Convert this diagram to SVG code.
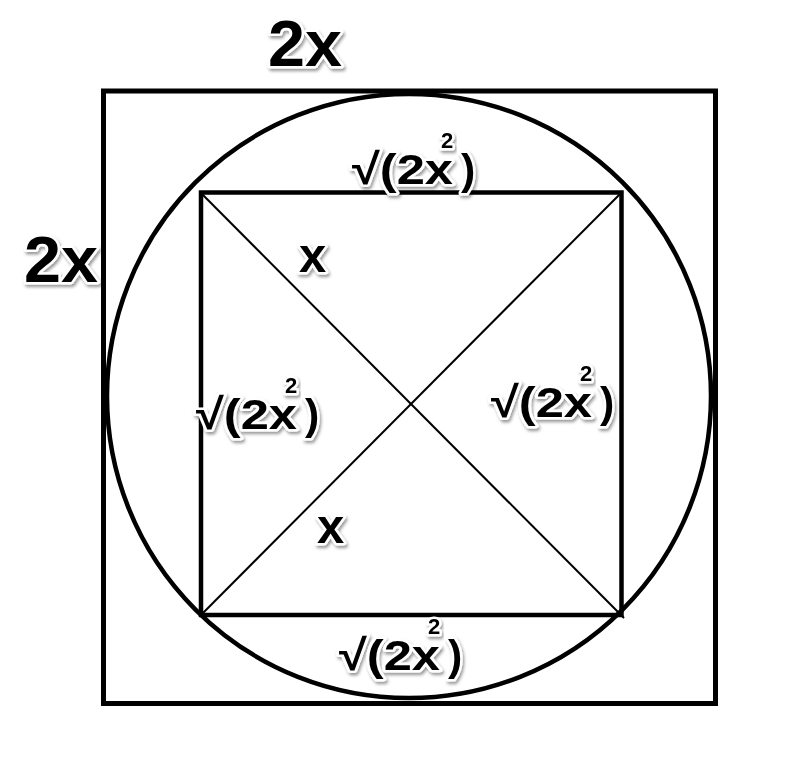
<svg xmlns="http://www.w3.org/2000/svg" width="792" height="760" viewBox="0 0 792 760">
<defs>
<filter id="sh" x="-20%" y="-30%" width="150%" height="170%">
<feDropShadow dx="1.5" dy="2.5" stdDeviation="1.6" flood-color="#000" flood-opacity="0.4"/>
</filter>
</defs>
<style>
.ln{fill:none;stroke:#000;stroke-linejoin:miter}
.lbl{font-family:"Liberation Sans",Arial,sans-serif;font-weight:bold;fill:#000;stroke:#fff;stroke-width:5;stroke-linejoin:round;paint-order:stroke fill;filter:url(#sh)}
.big{font-size:64px}
.sx{font-size:49px}
.rt{font-size:43px}
.sup{font-size:22px}
</style>
<rect width="792" height="760" fill="#fff"/>
<g id="outer-square"><rect class="ln" x="103.5" y="91" width="612" height="612.5" stroke-width="5"/></g>
<g id="circle"><circle class="ln" cx="409" cy="396" r="302" stroke-width="4.5"/></g>
<g id="inner-square"><rect class="ln" x="201" y="192.5" width="420.5" height="422.5" stroke-width="4.5"/></g>
<g id="connectors">
<line class="ln" x1="201" y1="193" x2="624" y2="618" stroke-width="2"/>
<line class="ln" x1="621" y1="193" x2="201" y2="615" stroke-width="2"/>
</g>
<g id="label-top-2x"><text class="lbl big" x="268" y="66" textLength="74" lengthAdjust="spacingAndGlyphs">2x</text></g>
<g id="label-left-2x"><text class="lbl big" x="24" y="282" textLength="74" lengthAdjust="spacingAndGlyphs">2x</text></g>
<g id="label-x-upper"><text class="lbl sx" x="299" y="272">x</text></g>
<g id="label-x-lower"><text class="lbl sx" x="317" y="543">x</text></g>
<g id="label-top-root">
<text class="lbl rt" x="352" y="184" textLength="101" lengthAdjust="spacingAndGlyphs">√(2x</text>
<text class="lbl sup" x="441" y="148">2</text>
<text class="lbl rt" x="461" y="184">)</text>
</g>
<g id="label-left-root" transform="translate(-156,245)">
<text class="lbl rt" x="352" y="184" textLength="101" lengthAdjust="spacingAndGlyphs">√(2x</text>
<text class="lbl sup" x="441" y="148">2</text>
<text class="lbl rt" x="461" y="184">)</text>
</g>
<g id="label-right-root" transform="translate(139,233)">
<text class="lbl rt" x="352" y="184" textLength="101" lengthAdjust="spacingAndGlyphs">√(2x</text>
<text class="lbl sup" x="441" y="148">2</text>
<text class="lbl rt" x="461" y="184">)</text>
</g>
<g id="label-bottom-root" transform="translate(-13,486)">
<text class="lbl rt" x="352" y="184" textLength="101" lengthAdjust="spacingAndGlyphs">√(2x</text>
<text class="lbl sup" x="441" y="148">2</text>
<text class="lbl rt" x="461" y="184">)</text>
</g>
</svg>
